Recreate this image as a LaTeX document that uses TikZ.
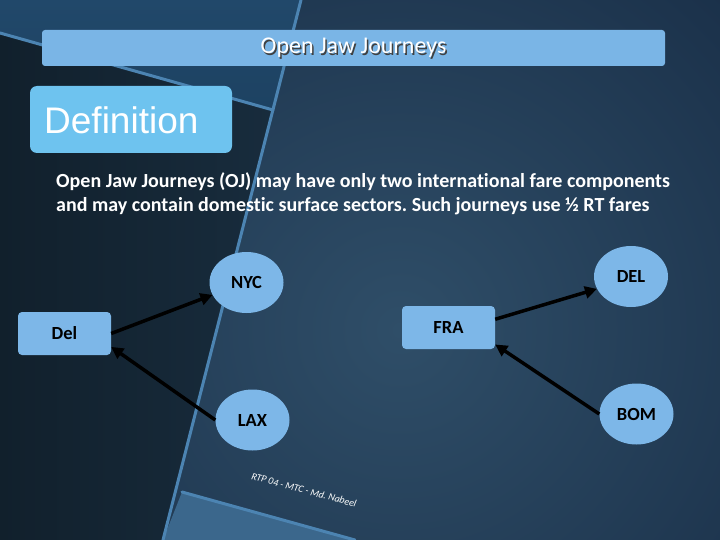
\documentclass[tikz,border=0pt]{standalone}
\usepackage{fontspec}
\setmainfont{Carlito}[Ligatures=NoCommon]
\newfontfamily\arialf{Liberation Sans}
\usetikzlibrary{shapes.geometric,arrows.meta}
\frenchspacing
\definecolor{bgmid}{HTML}{2F4E68}
\definecolor{bgright}{HTML}{1A3049}
\definecolor{bgtop}{HTML}{1D4262}
\definecolor{bgtoplight}{HTML}{21486A}
\definecolor{bgdark}{HTML}{11202C}
\definecolor{bgdark2}{HTML}{182C3D}
\definecolor{lineblue}{HTML}{4C84B2}
\definecolor{bottompanel}{HTML}{3B678C}
\definecolor{nodefill}{HTML}{7DB7E8}
\definecolor{titlefill}{HTML}{7AB5E6}
\definecolor{deffill}{HTML}{6EC3EF}
\tikzset{
  place/.style={ellipse, fill=nodefill, minimum width=74pt, minimum height=61pt, inner sep=0pt,
    font=\fontsize{18.5}{20}\selectfont\bfseries, text=black},
  hub/.style={rectangle, rounded corners=4pt, fill=nodefill, minimum width=93pt, minimum height=43pt,
    inner sep=0pt, font=\fontsize{18.5}{20}\selectfont\bfseries, text=black},
  link/.style={line width=3.5pt, black, -{Triangle[length=12pt,width=12pt]}},
  panelline/.style={lineblue, line width=3pt, line cap=round, line join=round}
}
\begin{document}
\begin{tikzpicture}[x=1pt,y=-1pt]
\useasboundingbox (0,0) rectangle (720,540);
% background
\begin{scope}
\clip (0,0) rectangle (720,540);
\shade[inner color=bgmid, outer color=bgright] (400,330) circle (480);
\end{scope}
\shade[top color=bgtoplight, bottom color=bgtop] (0,0) -- (301,0) -- (273,110) -- (0,33) -- cycle;
\shade[left color=bgdark, right color=bgdark2] (0,33) -- (273,110) -- (163,540) -- (0,540) -- cycle;
\fill[bottompanel] (182,492) -- (355,540) -- (163,540) -- cycle;
\draw[panelline] (0,33) -- (273,110);
\draw[panelline] (301,0) -- (163,540);
\draw[panelline] (182,492) -- (355,540);
% title bar
\node[fill=titlefill, rounded corners=3pt, minimum width=623pt, minimum height=36pt, inner sep=0pt] (title) at (353.5,48) {};
\node[text=black!75, font=\fontsize{24}{26}\selectfont] (titleshadow) at (355,49.5) {Open Jaw Journeys};
\node[text=white, font=\fontsize{24}{26}\selectfont] (titletext) at (353.5,48) {Open Jaw Journeys};
% definition box
\node[fill=deffill, rounded corners=7pt, minimum width=202pt, minimum height=67pt, inner sep=0pt] (defbox) at (131,119.5) {};
\node[anchor=west, inner sep=0pt, text=white, font=\arialf\fontsize{37}{40}\selectfont] (deftext) at (44,120) {Definition};
% paragraph
\node[anchor=north west, inner sep=0pt, align=left, text=white, font=\fontsize{20}{24}\selectfont\bfseries] (para) at (56,172)
  {Open Jaw Journeys (OJ) may have only two international fare components\\
   and may contain domestic surface sectors. Such journeys use ½ RT fares};
% nodes
\node[place] (nyc) at (246.5,282.5) {NYC};
\node[hub] (del) at (64.5,333.5) {Del};
\node[place] (lax) at (252.5,420) {LAX};
\node[place] (delhi) at (631,276.5) {DEL};
\node[hub] (fra) at (448.5,327.5) {FRA};
\node[place] (bom) at (636.5,414) {BOM};
% connectors
\draw[link] (del.east) -- (nyc.200);
\draw[link] (lax.west) -- (del.-16);
\draw[link] (fra.10) -- (delhi.200);
\draw[link] (bom.west) -- (fra.-20);
% footer
\node[text=white, rotate=-15, font=\fontsize{10}{11}\selectfont\itshape] (footer) at (304,490) {RTP 04 - MTC - Md. Nabeel};
\end{tikzpicture}
\end{document}
